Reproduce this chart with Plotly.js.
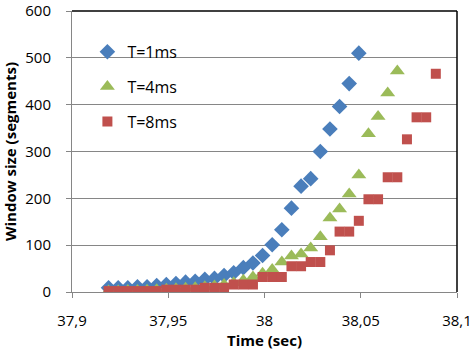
<!DOCTYPE html>
<html>
<head>
<meta charset="utf-8">
<script src="https://cdn.plot.ly/plotly-3.0.1.min.js"></script>
<style>html,body{margin:0;padding:0;background:#fff;}#chart{width:474px;height:352px;}</style>
</head>
<body>
<div id="chart"></div>
<script>
// Time (sec)
var timeT1 = [37.919,37.924,37.929,37.934,37.939,37.944,37.949,37.954,37.959,37.964,37.969,37.974,37.979,37.984,37.989,37.994,37.999,38.004,38.009,38.014,38.019,38.024,38.029,38.034,38.039,38.044,38.049];
var winT1  = [9,9,9,11,11,14,16,18,21,23,27,29,35,41,52,62,78,101,133,179,226,242,300,348,396,445,510];

var timeT4 = [37.919,37.924,37.929,37.934,37.939,37.944,37.949,37.954,37.959,37.964,37.969,37.974,37.979,37.984,37.989,37.994,37.999,38.004,38.009,38.014,38.019,38.024,38.029,38.034,38.039,38.044,38.049,38.054,38.059,38.064,38.069];
var winT4  = [2,2,3,3,4,5,6,7,8,9,11,13,16,20,25,32,40,48,64,77,81,94,118,158,177,209,250,338,375,425,472];

var timeT8 = [37.919,37.924,37.929,37.934,37.939,37.944,37.949,37.954,37.959,37.964,37.969,37.974,37.979,37.984,37.989,37.994,37.999,38.004,38.009,38.014,38.019,38.024,38.029,38.034,38.039,38.044,38.049,38.054,38.059,38.064,38.069,38.074,38.079,38.084,38.089];
var winT8  = [2,2,2,2,2,2,5,5,5,5,9,9,9,16,16,16,32,32,32,55,55,64,64,89,129,129,152,198,198,245,245,326,373,373,466];

var seriesNames = ['T=1ms','T=4ms','T=8ms'];
var xTickVals = [37.9,37.95,38,38.05,38.1];
var xTickText = ['37,9','37,95','38','38,05','38,1'];
var yTickVals = [0,100,200,300,400,500,600];

var font = "'Open Sans', 'Liberation Sans', sans-serif";

var traces = [
  {x: timeT1, y: winT1, name: seriesNames[0], type: 'scatter', mode: 'markers', legendgroup: 'a',
   marker: {symbol: 'diamond', size: 12, color: '#4A7EBB'}},
  {x: timeT4, y: winT4, name: seriesNames[1], type: 'scatter', mode: 'markers', legendgroup: 'b',
   marker: {symbol: 'triangle-up', size: 13, color: '#9BBB59'}},
  {x: timeT8, y: winT8, name: seriesNames[2], type: 'scatter', mode: 'markers', legendgroup: 'c',
   marker: {symbol: 'square', size: 10, color: '#C0504D'}}
];

var layout = {
  width: 474, height: 352,
  margin: {l: 72, r: 17, t: 11, b: 60},
  paper_bgcolor: '#fff', plot_bgcolor: '#fff',
  font: {family: font, size: 15, color: '#000'},
  showlegend: true,
  legend: {x: 0.04, y: 0.915, xanchor: 'left', yanchor: 'top', bgcolor: 'rgba(0,0,0,0)',
           font: {family: font, size: 16, color: '#000'}, tracegroupgap: 11, itemwidth: 30},
  xaxis: {range: [37.9, 38.1], tickvals: xTickVals, ticktext: xTickText,
          showgrid: false, zeroline: false, showline: true, linecolor: '#868686', linewidth: 1,
          ticks: 'outside', ticklen: 5, tickcolor: '#868686', ticklabelstandoff: 10,
          tickfont: {family: font, size: 15, color: '#000'},
          title: {text: '<b>Time (sec)</b>', font: {family: font, size: 15, color: '#000'}, standoff: 0}},
  yaxis: {range: [0, 600], tickvals: yTickVals, ticklabeloverflow: 'allow',
          showgrid: true, gridcolor: '#868686', gridwidth: 1, zeroline: false,
          showline: true, linecolor: '#868686', linewidth: 1,
          ticks: 'outside', ticklen: 5, tickcolor: '#868686', ticklabelstandoff: 12,
          tickfont: {family: font, size: 15, color: '#000'},
          title: {text: '<b>Window size (segments)</b>', font: {family: font, size: 15, color: '#000'}, standoff: 6}},
  shapes: [
    {type: 'line', xref: 'paper', yref: 'paper', x0: 0, x1: 1, y0: 1, y1: 1, line: {color: '#000', width: 1.5}},
    {type: 'line', xref: 'paper', yref: 'paper', x0: 1, x1: 1, y0: 0, y1: 1, line: {color: '#000', width: 1.5}}
  ]
};

Plotly.newPlot('chart', traces, layout, {displayModeBar: false, staticPlot: true});
</script>
</body>
</html>
